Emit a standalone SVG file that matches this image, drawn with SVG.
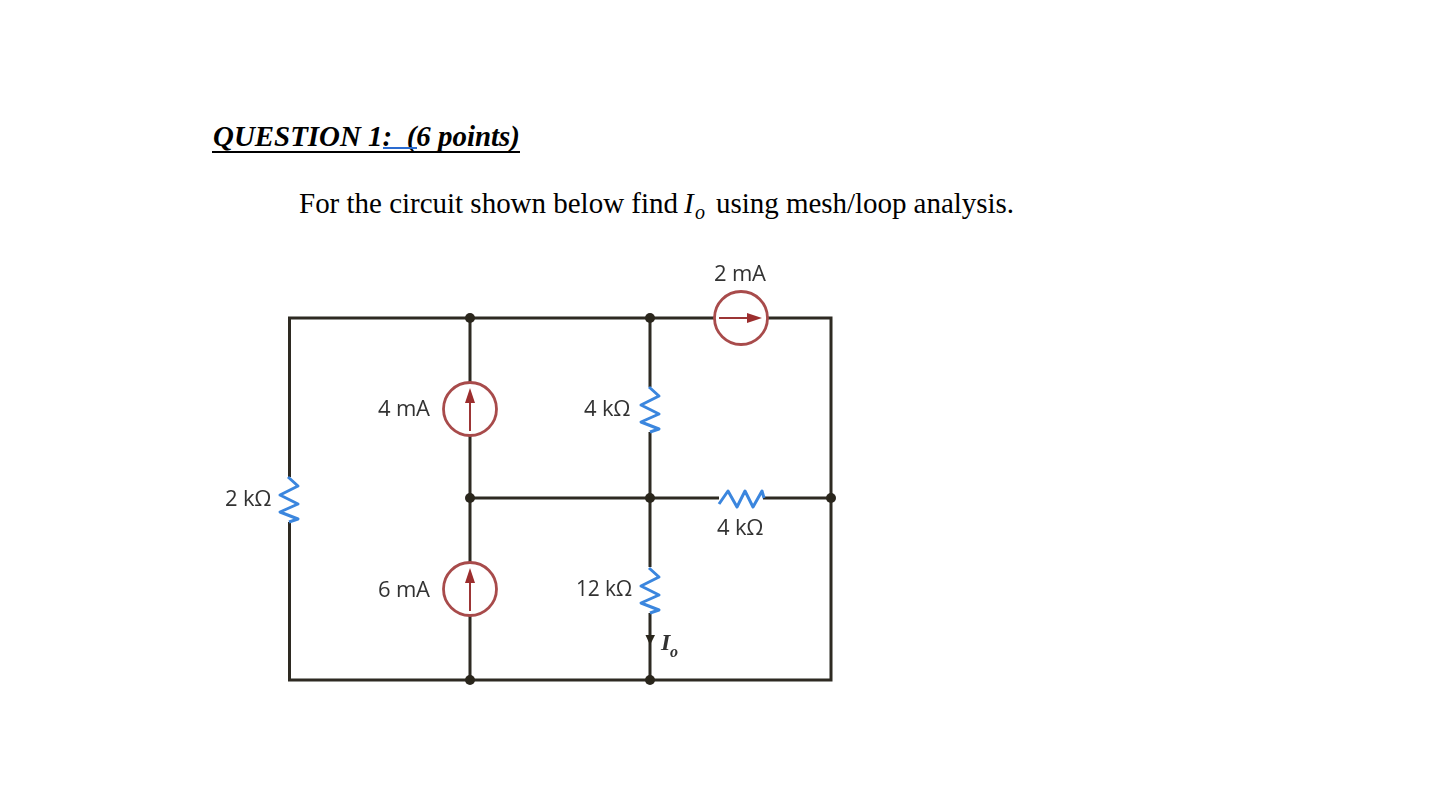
<svg xmlns="http://www.w3.org/2000/svg" width="1434" height="800" viewBox="0 0 1434 800">
<style>
.t{font-family:"Liberation Serif","Times New Roman",serif;fill:#000}
.l{font-family:"Open Sans","Noto Sans",sans-serif;font-size:22px;fill:#333;letter-spacing:-.2px}
.w{fill:none;stroke:#2e2a22;stroke-width:3}
.r{fill:none;stroke:#3b86de;stroke-width:3;stroke-linejoin:round}
.c{fill:#fff;stroke:#a84b4b;stroke-width:2.800}
.a{fill:none;stroke:#9c3535;stroke-width:2}
.h{fill:#9c2f2f}
.d{fill:#2a261e}
</style>
<defs>
<filter id="b" x="-10%" y="-10%" width="120%" height="120%"><feGaussianBlur stdDeviation="0.6"/></filter>
<path id="zv" d="M-1 0 L9 9 L-9 18 L9 27 L-9 35 L9 42 L0 45" class="r"/>
<g id="src"><circle r="26.500" class="c"/><path d="M0 22V-12" class="a"/><path d="M0 -21L-5 -6H5Z" class="h"/></g>
</defs>
<g id="heading">
<text class="t" x="213" y="146" font-size="30" font-weight="bold" font-style="italic" xml:space="preserve" textLength="307" lengthAdjust="spacingAndGlyphs">QUESTION 1:  (6 points)</text>
<rect x="212" y="151" width="308" height="2" fill="#000"/>
<rect x="383" y="147" width="34" height="2" fill="#2a6bd0"/>
</g>
<g id="prompt">
<text class="t" x="299" y="213" font-size="29" textLength="379" lengthAdjust="spacing">For the circuit shown below find</text>
<text class="t" x="684" y="213" font-size="29" font-style="italic">I</text>
<text class="t" x="695" y="219" font-size="20" font-style="italic">o</text>
<text class="t" x="716" y="213" font-size="29" textLength="298" lengthAdjust="spacing">using mesh/loop analysis.</text>
</g>
<g id="connectors" filter="url(#b)">
<path class="w" d="M289.500 477V318H714M768 318H831V680H289.500V522"/>
<path class="w" d="M470 318V382M470 436V562M470 616V680"/>
<path class="w" d="M650 318V387M650 432V567M650 613V680"/>
<path class="w" d="M470 498H719M763 498H831"/>
<path d="M645.500 635H655L650 645Z" fill="#2a261e"/>
<g class="d">
<circle cx="470" cy="318" r="5"/><circle cx="650" cy="318" r="5"/>
<circle cx="470" cy="498" r="5"/><circle cx="650" cy="498" r="5"/><circle cx="831" cy="498" r="5"/>
<circle cx="470" cy="680" r="5"/><circle cx="650" cy="680" r="5"/>
</g>
</g>
<g filter="url(#b)">
<g id="r-2k"><use href="#zv" x="289" y="477"/><text class="l" x="225" y="506">2 kΩ</text></g>
<g id="i-4ma"><use href="#src" x="470" y="409"/><text class="l" x="378" y="416">4 mA</text></g>
<g id="i-6ma"><use href="#src" x="470" y="589"/><text class="l" x="378" y="597">6 mA</text></g>
<g id="i-2ma"><use href="#src" transform="translate(741 318) rotate(90)"/><text class="l" x="714" y="281">2 mA</text></g>
<g id="r-4k-v"><use href="#zv" x="650" y="387"/><text class="l" x="584" y="416">4 kΩ</text></g>
<g id="r-12k"><use href="#zv" x="650" y="568"/><text class="l" x="576" y="596" textLength="56" lengthAdjust="spacingAndGlyphs">12 kΩ</text></g>
<g id="r-4k-h"><path class="r" d="M719 504 L728 491 L737 507 L745 491 L753 507 L762 491 L764 498"/><text class="l" x="717" y="535">4 kΩ</text></g>
<g id="io"><text x="661" y="650" font-family="Liberation Serif,serif" font-size="24" font-weight="bold" font-style="italic" fill="#333">I</text><text x="670" y="657" font-family="Liberation Serif,serif" font-size="16" font-weight="bold" font-style="italic" fill="#333">o</text></g>
</g>
</svg>
